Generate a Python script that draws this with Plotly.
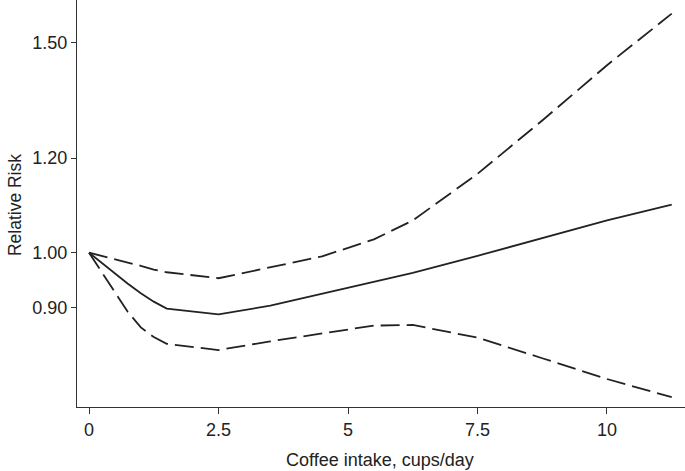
import plotly.graph_objects as go

intake = [0, 0.25, 0.5, 0.75, 1, 1.25, 1.5, 2.5, 3.5, 4.5, 5.5, 6.25, 7.5, 8.75, 10, 11.25]
rr = [1.0, 0.980, 0.961, 0.942, 0.925, 0.910, 0.898, 0.888, 0.903, 0.924, 0.945, 0.962, 0.994, 1.028, 1.064, 1.097]
upper = [1.0, 0.994, 0.987, 0.981, 0.975, 0.968, 0.963, 0.952, 0.972, 0.993, 1.026, 1.064, 1.164, 1.290, 1.435, 1.585]
lower = [1.0, 0.962, 0.925, 0.892, 0.866, 0.850, 0.839, 0.829, 0.843, 0.856, 0.869, 0.870, 0.849, 0.816, 0.784, 0.757]

x_ticks = [0, 2.5, 5, 7.5, 10]
x_tick_labels = ["0", "2.5", "5", "7.5", "10"]
y_ticks = [0.90, 1.00, 1.20, 1.50]
y_tick_labels = ["0.90", "1.00", "1.20", "1.50"]

ink = "#222222"
font = "Liberation Sans, Arial, sans-serif"

fig = go.Figure()
fig.add_trace(go.Scatter(x=intake, y=upper, mode="lines",
                         line=dict(color=ink, width=1.8, dash="19px,7px")))
fig.add_trace(go.Scatter(x=intake, y=rr, mode="lines",
                         line=dict(color=ink, width=1.8)))
fig.add_trace(go.Scatter(x=intake, y=lower, mode="lines",
                         line=dict(color=ink, width=1.8, dash="19px,7px")))

fig.update_layout(
    width=685, height=471,
    margin=dict(l=77, r=0, t=0, b=64),
    paper_bgcolor="white", plot_bgcolor="white",
    showlegend=False,
    font=dict(family=font, size=18, color=ink),
    xaxis=dict(range=[-0.232, 11.506], tickvals=x_ticks, ticktext=x_tick_labels,
               showgrid=False, zeroline=False, showline=True, linecolor="#333333",
               linewidth=1.3, ticks="outside", ticklen=6, tickcolor="#333333",
               tickwidth=1.2, tickfont=dict(size=18, color=ink)),
    yaxis=dict(type="log", range=[-0.1291, 0.2114], tickvals=y_ticks,
               ticktext=y_tick_labels, showgrid=False, zeroline=False,
               showline=True, linecolor="#333333", linewidth=1.3,
               ticks="outside", ticklen=5, tickcolor="#333333", tickwidth=1.2,
               tickfont=dict(size=18, color=ink)),
    annotations=[
        dict(text="Coffee intake, cups/day", xref="paper", yref="paper",
             x=0.498, y=-0.131, showarrow=False, xanchor="center", yanchor="middle",
             font=dict(size=18, color=ink, family=font)),
        dict(text="Relative Risk", xref="paper", yref="paper",
             x=-0.102, y=0.496, showarrow=False, textangle=-90,
             xanchor="center", yanchor="middle",
             font=dict(size=17.5, color=ink, family=font)),
    ],
)

fig.write_html("out.html", config={"displayModeBar": False},
               post_script="document.body.style.margin='0';document.body.style.overflow='hidden';")
